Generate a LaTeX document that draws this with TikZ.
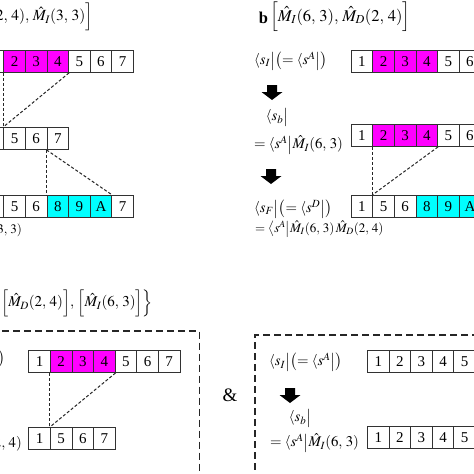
\documentclass[tikz,border=0pt]{standalone}
\usepackage{mathptmx}
\usepackage{fontspec}
\setmainfont{Liberation Serif}
\definecolor{mag}{RGB}{255,0,255}
\definecolor{cyn}{RGB}{0,255,255}
\definecolor{edge}{RGB}{50,50,50}
\tikzset{
 cell/.style={draw=edge, line width=0.9pt, minimum width=21.6pt, minimum height=22pt, inner sep=0pt, anchor=north west, font=\fontsize{15}{17}\selectfont},
 conn/.style={line width=1pt, draw=black!85, dash pattern=on 3pt off 2pt},
 frame/.style={draw=black!85, line width=1.2pt, dash pattern=on 7pt off 4pt},
 lbl/.style={font=\fontsize{14.8}{17}\selectfont, inner sep=0pt},
 small/.style={font=\fontsize{13}{15}\selectfont, inner sep=0pt},
 head/.style={font=\fontsize{16.5}{19}\selectfont, inner sep=0pt},
}
\newcommand\cellrow[4]{%
 \foreach [count=\i] \t/\c in {#4} {\node[cell, fill=\c] (#1-\i) at ({#2+(\i-1)*21.6},#3) {\t};}%
}
\newcommand\blkarrow[2]{%
 \fill[black, shift={(#1,#2)}] (-5,0) -- (5,0) -- (5,7) -- (10.5,7) -- (0,15) -- (-10.5,7) -- (-5,7) -- cycle;%
}
\begin{document}
\begin{tikzpicture}[x=1pt,y=-1pt]
\useasboundingbox (0,0) rectangle (474,474);
\clip (0,0) rectangle (474,474);
\fill[white] (0,0) rectangle (474,474);

% ---------- panel a ----------
\node[head, font=\fontsize{15.5}{18}\selectfont, anchor=east] (ahead) at (93,17) {\textbf{a}\enspace$\Bigl[\hat M_D(2,\,4),\,\hat M_I(3,\,3)\Bigr]$};
\cellrow{a1}{-18.3}{50}{1/white,2/mag,3/mag,4/mag,5/white,6/white,7/white}
\cellrow{a2}{-18.3}{127}{1/white,5/white,6/white,7/white}
\cellrow{a3}{-18.3}{195}{1/white,5/white,6/white,8/cyn,9/cyn,A/cyn,7/white}
\draw[conn] (a1-2.south west) -- (a2-2.north west);
\draw[conn] (a1-4.south east) -- (a2-2.north west);
\draw[conn] (a2-4.south west) -- (a3-4.north west);
\draw[conn] (a2-4.south west) -- (a3-6.north east);
\node[small, anchor=east] (alab) at (22,230) {$=\bigl\langle s^A\bigr|\hat M_D(2,\,4)\,\hat M_I(3,\,3)$};

% ---------- panel b ----------
\node[head, font=\bfseries\fontsize{16.5}{19}\selectfont] (bname) at (263.5,18) {b};
\node[head, anchor=west] (bhead) at (270,17) {$\Bigl[\hat M_I(6,\,3),\,\hat M_D(2,\,4)\Bigr]$};
\node[lbl, anchor=west] (bl1) at (254,61) {$\langle s_I\bigr|\bigl(=\langle s^A\bigr|\bigr)$};
\cellrow{b1}{350.7}{50}{1/white,2/mag,3/mag,4/mag,5/white,6/white,7/white}
\blkarrow{272}{85}
\node[lbl] (bl2a) at (277,117) {$\langle s_b\bigr|$};
\node[lbl, anchor=west] (bl2b) at (254,145) {$=\langle s^A\bigr|\hat M_I(6,\,3)$};
\cellrow{b2}{350.7}{124}{1/white,2/mag,3/mag,4/mag,5/white,6/white,7/white}
\blkarrow{271}{169}
\node[lbl, anchor=west] (bl3a) at (254,209) {$\langle s_F\bigr|\bigl(=\langle s^D\bigr|\bigr)$};
\node[small, anchor=west] (bl3b) at (255,229) {$=\bigl\langle s^A\bigr|\hat M_I(6,\,3)\,\hat M_D(2,\,4)$};
\cellrow{b3}{350.7}{195}{1/white,5/white,6/white,8/cyn,9/cyn,A/cyn,7/white}
\draw[conn] (b2-2.south west) -- (b3-2.north west);
\draw[conn] (b2-4.south east) -- (b3-2.north west);

% ---------- panel c ----------
\node[head, font=\fontsize{15}{18}\selectfont, anchor=west] (chead) at (1,303) {$\Bigl[\hat M_D(2,\,4)\Bigr],\,\Bigl[\hat M_I(6,\,3)\Bigr]\Bigr\}$};
\node[head, font=\fontsize{15}{18}\selectfont, anchor=east] (cname) at (chead.west) {\textbf{c}\enspace$\Bigl\{$};
\draw[frame] (-20,331) -- (199.5,331) -- (199.5,490);
\node[lbl, anchor=east] (cl1) at (5,359) {$\langle s_I\bigr|\bigl(=\langle s^A\bigr|\bigr)$};
\cellrow{c1}{28.3}{350}{1/white,2/mag,3/mag,4/mag,5/white,6/white,7/white}
\cellrow{c2}{28.3}{427}{1/white,5/white,6/white,7/white}
\node[lbl, anchor=east] (cl2) at (22,444) {$=\langle s^A\bigr|\hat M_D(2,\,4)$};
\draw[conn] (c1-2.south west) -- (c2-2.north west);
\draw[conn] (c1-4.south east) -- (c2-2.north west);

\node[lbl, font=\fontsize{19}{21}\selectfont] (amp) at (230,395) {\&};

% ---------- panel d ----------
\draw[frame] (490,335) -- (255,335) -- (255,490);
\node[lbl, anchor=west] (dl1) at (269,362) {$\langle s_I\bigr|\bigl(=\langle s^A\bigr|\bigr)$};
\cellrow{d1}{367}{350}{1/white,2/white,3/white,4/white,5/white,6/white,7/white}
\blkarrow{290}{388}
\node[lbl] (dl2a) at (300,418) {$\langle s_b\bigr|$};
\node[lbl, anchor=west] (dl2b) at (270,443) {$=\langle s^A\bigr|\hat M_I(6,\,3)$};
\cellrow{d2}{367}{426}{1/white,2/white,3/white,4/white,5/white,6/white,7/white}
\end{tikzpicture}
\end{document}
